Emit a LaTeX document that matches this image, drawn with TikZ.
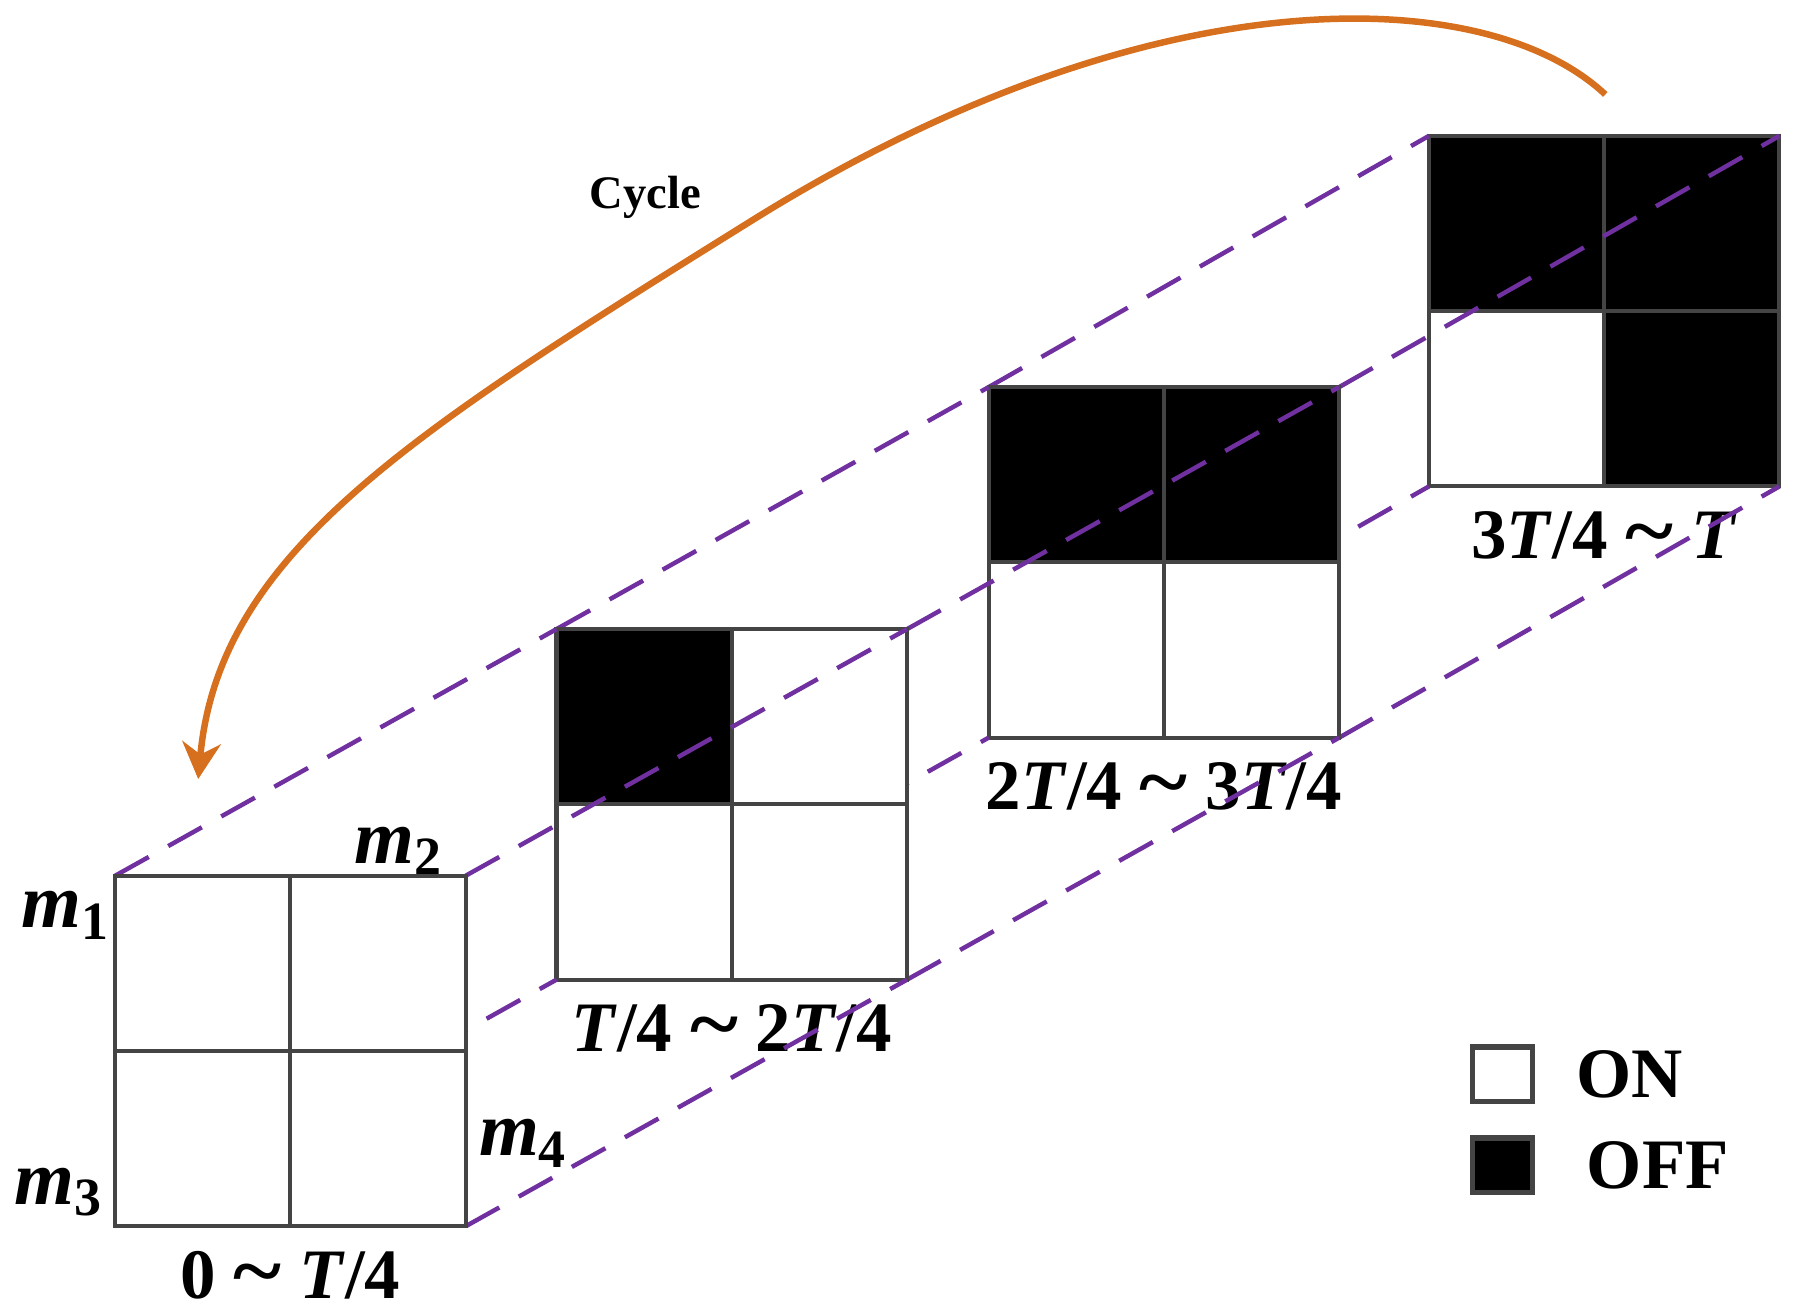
\documentclass[tikz,border=0pt]{standalone}
\usepackage{fontspec}
\setmainfont{Liberation Serif}
\usetikzlibrary{arrows.meta,positioning}
\definecolor{gridgray}{RGB}{68,68,68}
\definecolor{linkpurple}{RGB}{112,48,160}
\definecolor{cycleorange}{RGB}{214,112,30}
\newcommand{\wave}{\scalebox{1.3}[1.15]{\textasciitilde}}

\begin{document}
\begin{tikzpicture}[x=0.01cm,y=-0.01cm,>={Stealth[length=9pt,width=9.5pt]},
			cell/.style={draw=gridgray,line width=1pt,fill=white,minimum size=1.52cm,inner sep=0pt,outer sep=0pt},
			off cell/.style={cell,fill=black},
			frame/.style={minimum size=3.04cm,inner sep=0pt,outer sep=0pt},
			link/.style={draw=linkpurple,line width=1.1pt,dash pattern=on 9.5pt off 5.5pt},
			period/.style={font=\fontsize{17.5}{21}\selectfont\bfseries,inner sep=0pt},
			corner/.style={font=\fontsize{19}{22}\selectfont\bfseries\itshape,inner sep=0pt},
			key/.style={draw=gridgray,line width=1.3pt,minimum width=0.52cm,minimum height=0.47cm,inner sep=0pt}]
			
			\useasboundingbox (0,0) rectangle (1568,1140);
			
			\node[frame] (g1) at (252,912) {};
			\node[frame] (g2) at (635,698) {};
			\node[frame] (g3) at (1010,488) {};
			\node[frame] (g4) at (1392,270) {};
			
			% 3T/4 ~ T
			\node[off cell,anchor=north west] (g4a) at (g4.north west) {};
			\node[off cell,right=0pt of g4a] (g4b) {};
			\node[cell,below=0pt of g4a] (g4c) {};
			\node[off cell,right=0pt of g4c] (g4d) {};
			\node[period,below=6pt of g4] (t4) {3\textit{T}/4 \wave{} \textit{T}};
			
			\path[link]
			(g3.north west) edge (g4.north west)
			(g3.north east) edge (g4.north east)
			(g3.south west) edge (g4.south west)
			(g3.south east) edge (g4.south east)
			;
			
			% 2T/4 ~ 3T/4
			\node[off cell,anchor=north west] (g3a) at (g3.north west) {};
			\node[off cell,right=0pt of g3a] (g3b) {};
			\node[cell,below=0pt of g3a] (g3c) {};
			\node[cell,right=0pt of g3c] (g3d) {};
			\node[period,below=6pt of g3] (t3) {2\textit{T}/4 \wave{} 3\textit{T}/4};
			
			\path[link]
			(g2.north west) edge (g3.north west)
			(g2.north east) edge (g3.north east)
			(g2.south west) edge (g3.south west)
			(g2.south east) edge (g3.south east)
			;
			
			% T/4 ~ 2T/4
			\node[off cell,anchor=north west] (g2a) at (g2.north west) {};
			\node[cell,right=0pt of g2a] (g2b) {};
			\node[cell,below=0pt of g2a] (g2c) {};
			\node[cell,right=0pt of g2c] (g2d) {};
			\node[period,below=6pt of g2] (t2) {\textit{T}/4 \wave{} 2\textit{T}/4};
			
			\path[link]
			(g1.north west) edge (g2.north west)
			(g1.north east) edge (g2.north east)
			(g1.south west) edge (g2.south west)
			(g1.south east) edge (g2.south east)
			;
			
			% 0 ~ T/4
			\node[cell,anchor=north west] (g1a) at (g1.north west) {};
			\node[cell,right=0pt of g1a] (g1b) {};
			\node[cell,below=0pt of g1a] (g1c) {};
			\node[cell,right=0pt of g1c] (g1d) {};
			\node[period,below=6pt of g1] (t1) {0 \wave{} \textit{T}/4};
			
			\node[corner,anchor=base east] (m1) at ([xshift=-0.9pt,yshift=-12.8pt]g1.north west) {m\textsubscript{\textup{1}}};
			\node[corner,anchor=base east] (m2) at ([xshift=-5.4pt,yshift=3.1pt]g1.north east) {m\textsubscript{\textup{2}}};
			\node[corner,anchor=base east] (m3) at ([xshift=-2.8pt,yshift=5.4pt]g1.south west) {m\textsubscript{\textup{3}}};
			\node[corner,anchor=base west] (m4) at ([xshift=3.1pt,yshift=17.4pt]g1.south east) {m\textsubscript{\textup{4}}};
			
			% cycle arrow
			\coordinate (cy0) at (1393,82);
			\coordinate (cy1) at (172,676);
			\draw[->,cycleorange,line width=1.6pt] (cy0) .. controls (1290,-15) and (1000,-25) .. (653,191)
			.. controls (356,376) and (190,480) .. (cy1);
			\node[font=\fontsize{11.5}{14}\selectfont\bfseries] (cyc) at (560,171) {Cycle};
			
			% legend
			\node[key,fill=white] (kon) at (1304,932) {};
			\node[key,fill=black] (koff) at (1304,1011) {};
			\node[period,right=10pt of kon] (on) {ON};
			\node[period,right=12.5pt of koff] (off) {OFF};
			\end{tikzpicture}
\end{document}
